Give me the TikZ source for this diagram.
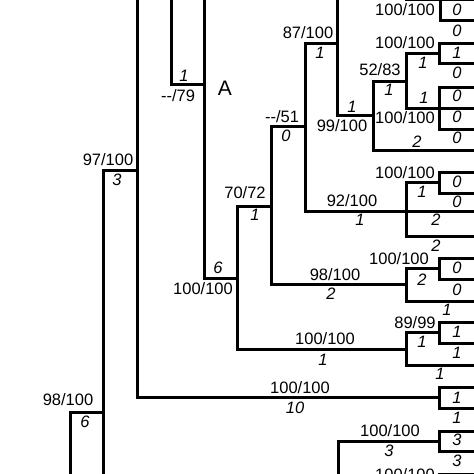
\documentclass[tikz,border=0pt]{standalone}
\usepackage{fontspec}
\setmainfont{Liberation Sans}
\tikzset{br/.style={line width=3pt},sup/.style={font=\fontsize{16.5}{18}\selectfont,inner sep=0pt},len/.style={inner sep=0pt,font=\fontsize{16.5}{18}\selectfont\itshape}}
\begin{document}
\begin{tikzpicture}[x=1pt,y=-1pt]
\useasboundingbox (0,0) rectangle (474,474);
\clip (0,0) rectangle (474,474);
% tree nodes
\coordinate (r0) at (70,560);
\coordinate (n98) at (103,412);
\coordinate (n97) at (137,170);
\coordinate (p79) at (171,-40);
\coordinate (nA) at (204,84);
\coordinate (n100a) at (237,278);
\coordinate (n70) at (271,206);
\coordinate (n51) at (305,126);
\coordinate (n87) at (337,43);
\coordinate (n99) at (373,115);
\coordinate (n52) at (406,81);
\coordinate (n92) at (406,211);
\coordinate (n98b) at (406,284);
\coordinate (n89) at (406,349);
\coordinate (n100c) at (338,560);
\coordinate (ptop) at (406,-40);
\coordinate (b1) at (440,-1);
\coordinate (b2) at (439,53);
\coordinate (b3) at (439,108);
\coordinate (b4) at (439,182.5);
\coordinate (b5) at (439,268.5);
\coordinate (b6) at (439,332.5);
\coordinate (b7) at (439,397.5);
\coordinate (b8) at (439,441);
\coordinate (b9) at (439,484.5);
% branches
\draw[br] (r0) |- (n98);
\draw[br] (n98) |- (n97) (n98) -- (103,560);
\draw[br] (n97) |- (b7) (n97) -- (137,-40);
\draw[br] (p79) |- (nA);
\draw[br] (nA) |- (n100a) (nA) -- (204,-40);
\draw[br] (n100a) |- (n70) (n100a) |- (n89);
\draw[br] (n70) |- (n51) (n70) |- (n98b);
\draw[br] (n51) |- (n87) (n51) |- (n92);
\draw[br] (n87) |- (n99) (n87) -- (337,-40);
\draw[br] (n99) |- (n52) (n99) |- (480,150);
\draw[br] (n52) |- (b2) (n52) |- (b3);
\draw[br] (n92) |- (b4) (n92) -- (480,211) (n92) |- (480,236);
\draw[br] (n98b) |- (b5) (n98b) |- (480,301);
\draw[br] (n89) |- (b6) (n89) |- (480,365);
\draw[br] (n100c) |- (b8) (n100c) |- (b9);
\draw[br] (ptop) |- (b1) (b1) -- (480,-1) (b3) -- (480,108);
% terminal pairs
\foreach \b/\h in {b1/21.5,b2/10,b3/21,b4/10.5,b5/10.5,b6/10.5,b7/10.5,b8/10,b9/10.5}
  \draw[br] (\b) ++(41,-\h) -| ++(-41,2*\h) -- ++(41,0);
% support values
\foreach \x/\y/\t [count=\i] in {68/400/{98/100},108/160/{97/100},178/96/{{-}{-}/79},203/289/{100/100},
  245/193/{70/72},282/117/{{-}{-}/51},308/33/{87/100},342/126/{99/100},380/70/{52/83},405/10/{100/100},
  405/43/{100/100},405/118/{100/100},405/173/{100/100},352/201/{92/100},335/275/{98/100},399/259/{100/100},
  325/339/{100/100},415/323/{89/99},300/388/{100/100},390/431/{100/100},405/475/{100/100}}
  \node[sup] (s\i) at (\x,\y) {\t};
% branch lengths
\foreach \x/\y/\t [count=\i] in {85/422/6,117/180/3,184/76/1,218/268/6,255/215/1,286/136/0,320/53/1,
  352/107/1,389/90/1,423/63/1,424/98/1,417/142/2,422/192/1,360/220/1,436/220/2,436/246/2,331/294/2,
  422/280/2,447/310/1,323/360/1,422/342/1,440/374/1,295/408/10,389/451/3}
  \node[len] (l\i) at (\x,\y) {\t};
\foreach \y/\t [count=\i] in {10/0,31/0,53/1,73/0,96/0,117/0,138/0,182/0,202/0,268/0,290/0,
  332/1,353/1,398/1,418/1,440/3,461/3}
  \node[len] (t\i) at (457,\y) {\t};
\node[inner sep=0pt,font=\fontsize{21}{24}\selectfont] (cladeA) at (225,88) {A};
\end{tikzpicture}
\end{document}
